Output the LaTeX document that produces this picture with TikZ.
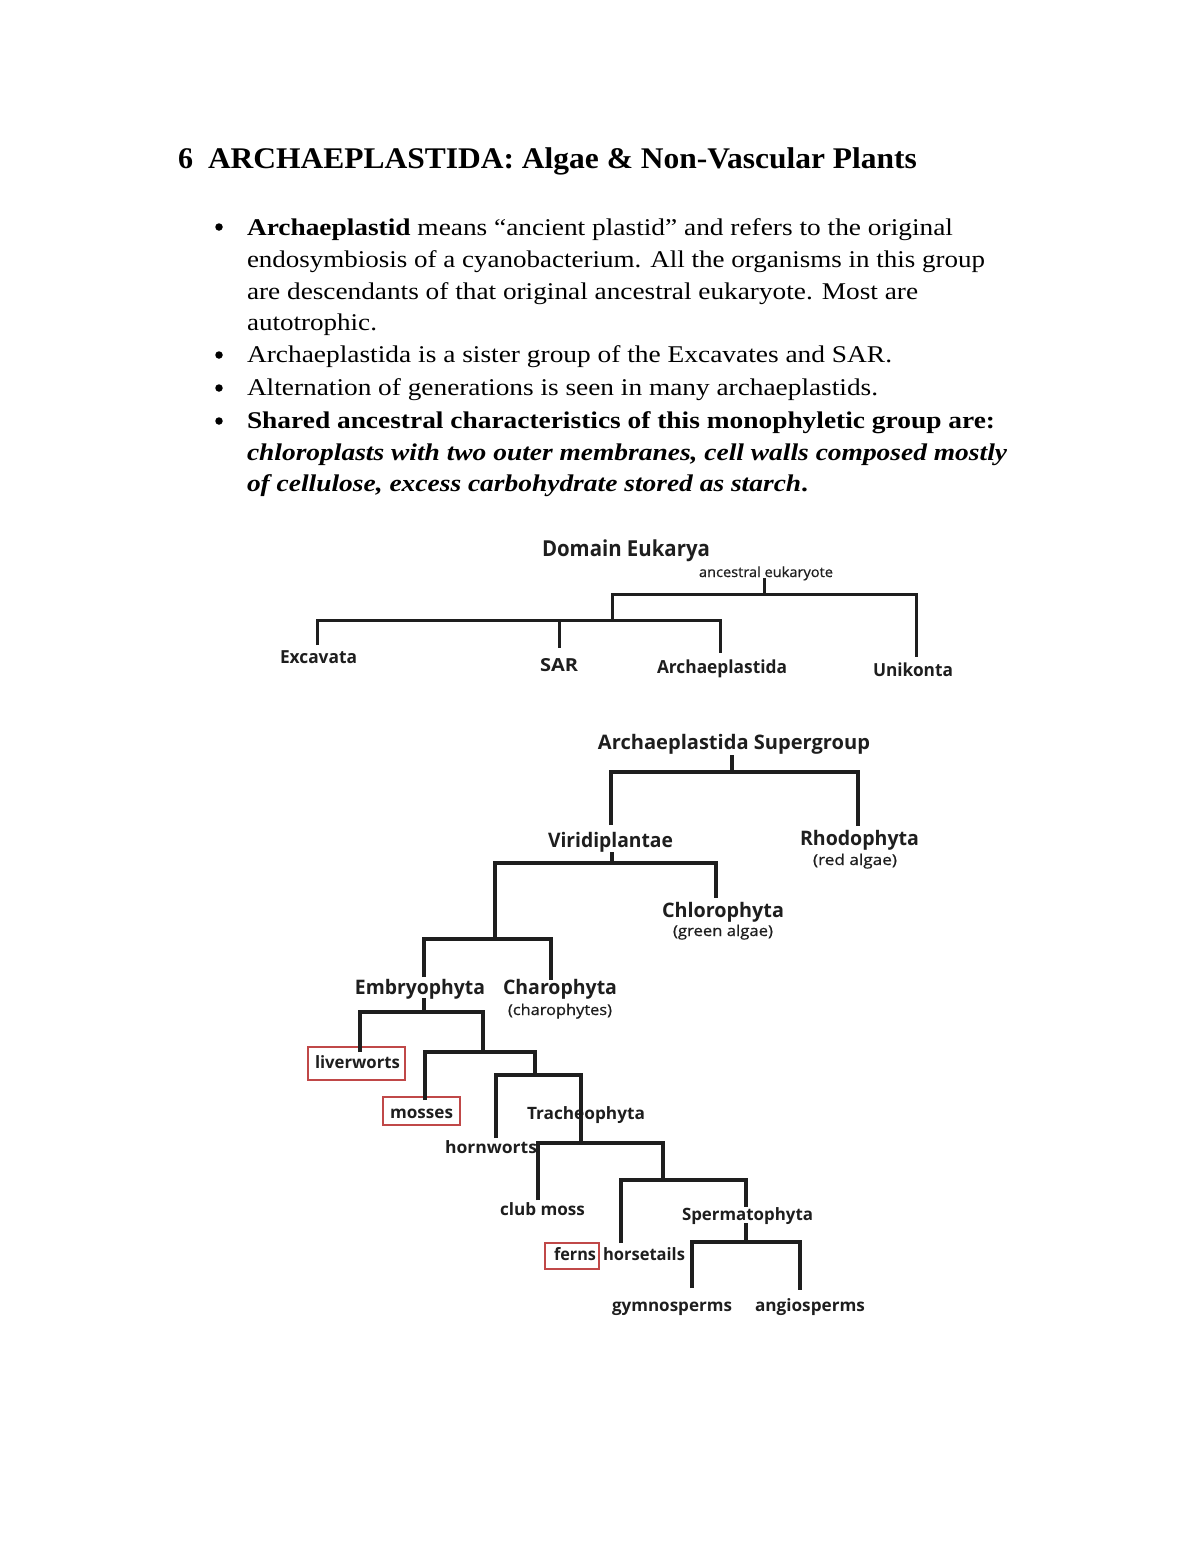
\documentclass[tikz,border=0pt]{standalone}
\usepackage{fontspec}
\usepackage{graphicx}
\setmainfont{Liberation Serif}
\newfontfamily\dg{Open Sans}
\newfontfamily\dgm{Open Sans}[FakeBold=0.7]
\newcommand{\fw}[2]{\resizebox{#1pt}{\height}{#2}}
\definecolor{boxred}{RGB}{192,72,72}
\definecolor{ink}{RGB}{30,30,30}
\tikzset{
  txt/.style={anchor=base west, inner sep=0pt, outer sep=0pt, font=\fontsize{24}{28}\selectfont},
  ttl/.style={anchor=base west, inner sep=0pt, outer sep=0pt, font=\bfseries\fontsize{30}{34}\selectfont},
  bul/.style={circle, fill=black, inner sep=0pt, minimum size=7.5pt},
  lb/.style={anchor=base, inner sep=0pt, outer sep=0pt, text=ink},
  big/.style={lb, font=\dg\bfseries\fontsize{20}{22}\selectfont},
  mid/.style={lb, font=\dg\bfseries\fontsize{18}{20}\selectfont},
  sml/.style={lb, font=\dg\bfseries\fontsize{17}{19}\selectfont},
  par/.style={lb, font=\dgm\fontsize{15}{17}\selectfont},
  rbox/.style={draw=boxred, line width=2pt, inner sep=0pt},
  br/.style={draw=ink, line width=3.2pt, line join=miter},
  brt/.style={draw=ink, line width=3pt, line join=miter}
}
\begin{document}
\begin{tikzpicture}[x=1pt,y=-1pt]
\fill[white, use as bounding box] (0,0) rectangle (1200,1553);

% ---------- title and bullets ----------
\node[ttl] (tnum) at (178,168) {6};
\node[ttl] (ttext) at (208,168) {\fw{709}{ARCHAEPLASTIDA: Algae \& Non-Vascular Plants}};

\node[bul] (b1) at (219,227) {};
\node[bul] (b2) at (219,355) {};
\node[bul] (b3) at (219,388) {};
\node[bul] (b4) at (219,421) {};

\node[txt] (l1) at (247,235) {\fw{706}{\textbf{Archaeplastid} means “ancient plastid” and refers to the original}};
\node[txt] (l2) at (247,267) {\fw{738}{endosymbiosis of a cyanobacterium. All the organisms in this group}};
\node[txt] (l3) at (247,299) {\fw{671}{are descendants of that original ancestral eukaryote. Most are}};
\node[txt] (l4) at (247,330) {\fw{130}{autotrophic.}};
\node[txt] (l5) at (247,362) {\fw{645}{Archaeplastida is a sister group of the Excavates and SAR.}};
\node[txt] (l6) at (247,395) {\fw{631}{Alternation of generations is seen in many archaeplastids.}};
\node[txt] (l7) at (247,428) {\fw{748}{\bfseries Shared ancestral characteristics of this monophyletic group are:}};
\node[txt] (l8) at (247,460) {\fw{760}{\bfseries\itshape chloroplasts with two outer membranes, cell walls composed mostly}};
\node[txt] (l9) at (247,491) {\fw{561}{\bfseries\itshape of cellulose, excess carbohydrate stored as starch\upshape.}};

% ---------- tree 1: Domain Eukarya ----------
\node[lb, font=\dg\bfseries\fontsize{22}{24}\selectfont] (dom) at (626,556) {\fw{168}{Domain Eukarya}};
\node[lb, font=\dgm\fontsize{14}{16}\selectfont] (anc) at (766,577) {\fw{134}{ancestral eukaryote}};
\node[mid] (exc) at (318.5,663) {\fw{77}{Excavata}};
\node[mid] (sar) at (559,671) {\fw{38}{SAR}};
\node[mid] (arc) at (722,673) {\fw{130}{Archaeplastida}};
\node[mid] (uni) at (913,676) {\fw{80}{Unikonta}};

\coordinate (e0) at (764,578);
\coordinate (e1) at (764,594);
\coordinate (e2) at (612,594);
\coordinate (e3) at (916,594);
\coordinate (e4) at (612,620);
\coordinate (e5) at (916,657);
\coordinate (e6) at (317,620);
\coordinate (e7) at (720,620);
\coordinate (e8) at (317,645);
\coordinate (e9) at (559,620);
\coordinate (e10) at (559,648);
\coordinate (e11) at (720,653);
\draw[brt] (e0) -- (e1);
\draw[brt] (e4) -- (e2) -- (e3) -- (e5);
\draw[brt] (e8) -- (e6) -- (e7) -- (e11);
\draw[brt] (e9) -- (e10);

% ---------- tree 2: Archaeplastida Supergroup ----------
\node[big] (sup) at (734,749) {\fw{272}{Archaeplastida Supergroup}};
\node[big] (vir) at (610.5,847) {\fw{125}{Viridiplantae}};
\node[big] (rho) at (859.5,845) {\fw{119}{Rhodophyta}};
\node[par] (red) at (855,865) {\fw{84}{(red algae)}};
\node[big] (chl) at (723,917) {\fw{122}{Chlorophyta}};
\node[par] (grn) at (723,936) {\fw{100}{(green algae)}};
\node[big] (emb) at (420,994) {\fw{130}{Embryophyta}};
\node[big] (cha) at (560,994) {\fw{114}{Charophyta}};
\node[par] (chs) at (560,1015) {\fw{104}{(charophytes)}};

\node[rbox, minimum width=97pt, minimum height=33pt] (livbox) at (356.5,1063.5) {};
\node[sml] (liv) at (357.5,1068) {\fw{85}{liverworts}};
\node[rbox, minimum width=77pt, minimum height=28pt] (mosbox) at (421.5,1111) {};
\node[sml] (mos) at (421.5,1118) {\fw{63}{mosses}};
\node[sml] (tra) at (586,1119) {\fw{118}{Tracheophyta}};
\node[sml] (hor) at (491,1153) {\fw{92}{hornworts}};
\node[sml] (club) at (542.5,1215) {\fw{85}{club moss}};
\node[sml] (spe) at (747.5,1220) {\fw{131}{Spermatophyta}};
\node[rbox, minimum width=54pt, minimum height=26pt] (fernbox) at (572,1256) {};
\node[sml] (fern) at (575,1260) {\fw{42}{ferns}};
\node[sml] (hst) at (644,1260) {\fw{82}{horsetails}};
\node[sml] (gym) at (672,1311) {\fw{120}{gymnosperms}};
\node[sml] (ang) at (810,1311) {\fw{110}{angiosperms}};

% connectors
\coordinate (s0) at (732,755);
\coordinate (s1) at (732,772);
\coordinate (s2) at (611,772);
\coordinate (s3) at (858,772);
\coordinate (s4) at (611,825);
\coordinate (s5) at (858,826);
\draw[br] (s0) -- (s1);
\draw[br] (s4) -- (s2) -- (s3) -- (s5);

\coordinate (v0) at (612,852);
\coordinate (v1) at (612,863);
\coordinate (v2) at (495,863);
\coordinate (v3) at (716,863);
\coordinate (v4) at (495,939);
\coordinate (v5) at (716,898);
\draw[br] (v0) -- (v1);
\draw[br] (v4) -- (v2) -- (v3) -- (v5);

\coordinate (g2) at (424,939);
\coordinate (g3) at (551,939);
\coordinate (g4) at (424,977);
\coordinate (g5) at (551,980);
\draw[br] (g4) -- (g2) -- (g3) -- (g5);

\coordinate (m0) at (424,998);
\coordinate (m1) at (424,1012);
\coordinate (m2) at (360,1012);
\coordinate (m3) at (483,1012);
\coordinate (m4) at (360,1052);
\coordinate (m5) at (483,1052);
\draw[br] (m0) -- (m1);
\draw[br] (m4) -- (m2) -- (m3) -- (m5);

\coordinate (n2) at (425,1052);
\coordinate (n3) at (535,1052);
\coordinate (n4) at (425,1100);
\coordinate (n5) at (535,1075);
\draw[br] (n4) -- (n2) -- (n3) -- (n5);

\coordinate (h2) at (496,1075);
\coordinate (h3) at (581,1075);
\coordinate (h4) at (496,1138);
\coordinate (h5) at (581,1143);
\draw[br] (h4) -- (h2) -- (h3) -- (h5);

\coordinate (c2) at (538,1143);
\coordinate (c3) at (663,1143);
\coordinate (c4) at (538,1200);
\coordinate (c5) at (663,1180);
\draw[br] (c4) -- (c2) -- (c3) -- (c5);

\coordinate (f2) at (621,1180);
\coordinate (f3) at (746,1180);
\coordinate (f4) at (621,1243);
\coordinate (f5) at (746,1207);
\draw[br] (f4) -- (f2) -- (f3) -- (f5);

\coordinate (p0) at (746,1223);
\coordinate (p1) at (746,1242);
\coordinate (p2) at (692,1242);
\coordinate (p3) at (800,1242);
\coordinate (p4) at (692,1288);
\coordinate (p5) at (800,1290);
\draw[br] (p0) -- (p1);
\draw[br] (p4) -- (p2) -- (p3) -- (p5);
\end{tikzpicture}
\end{document}
